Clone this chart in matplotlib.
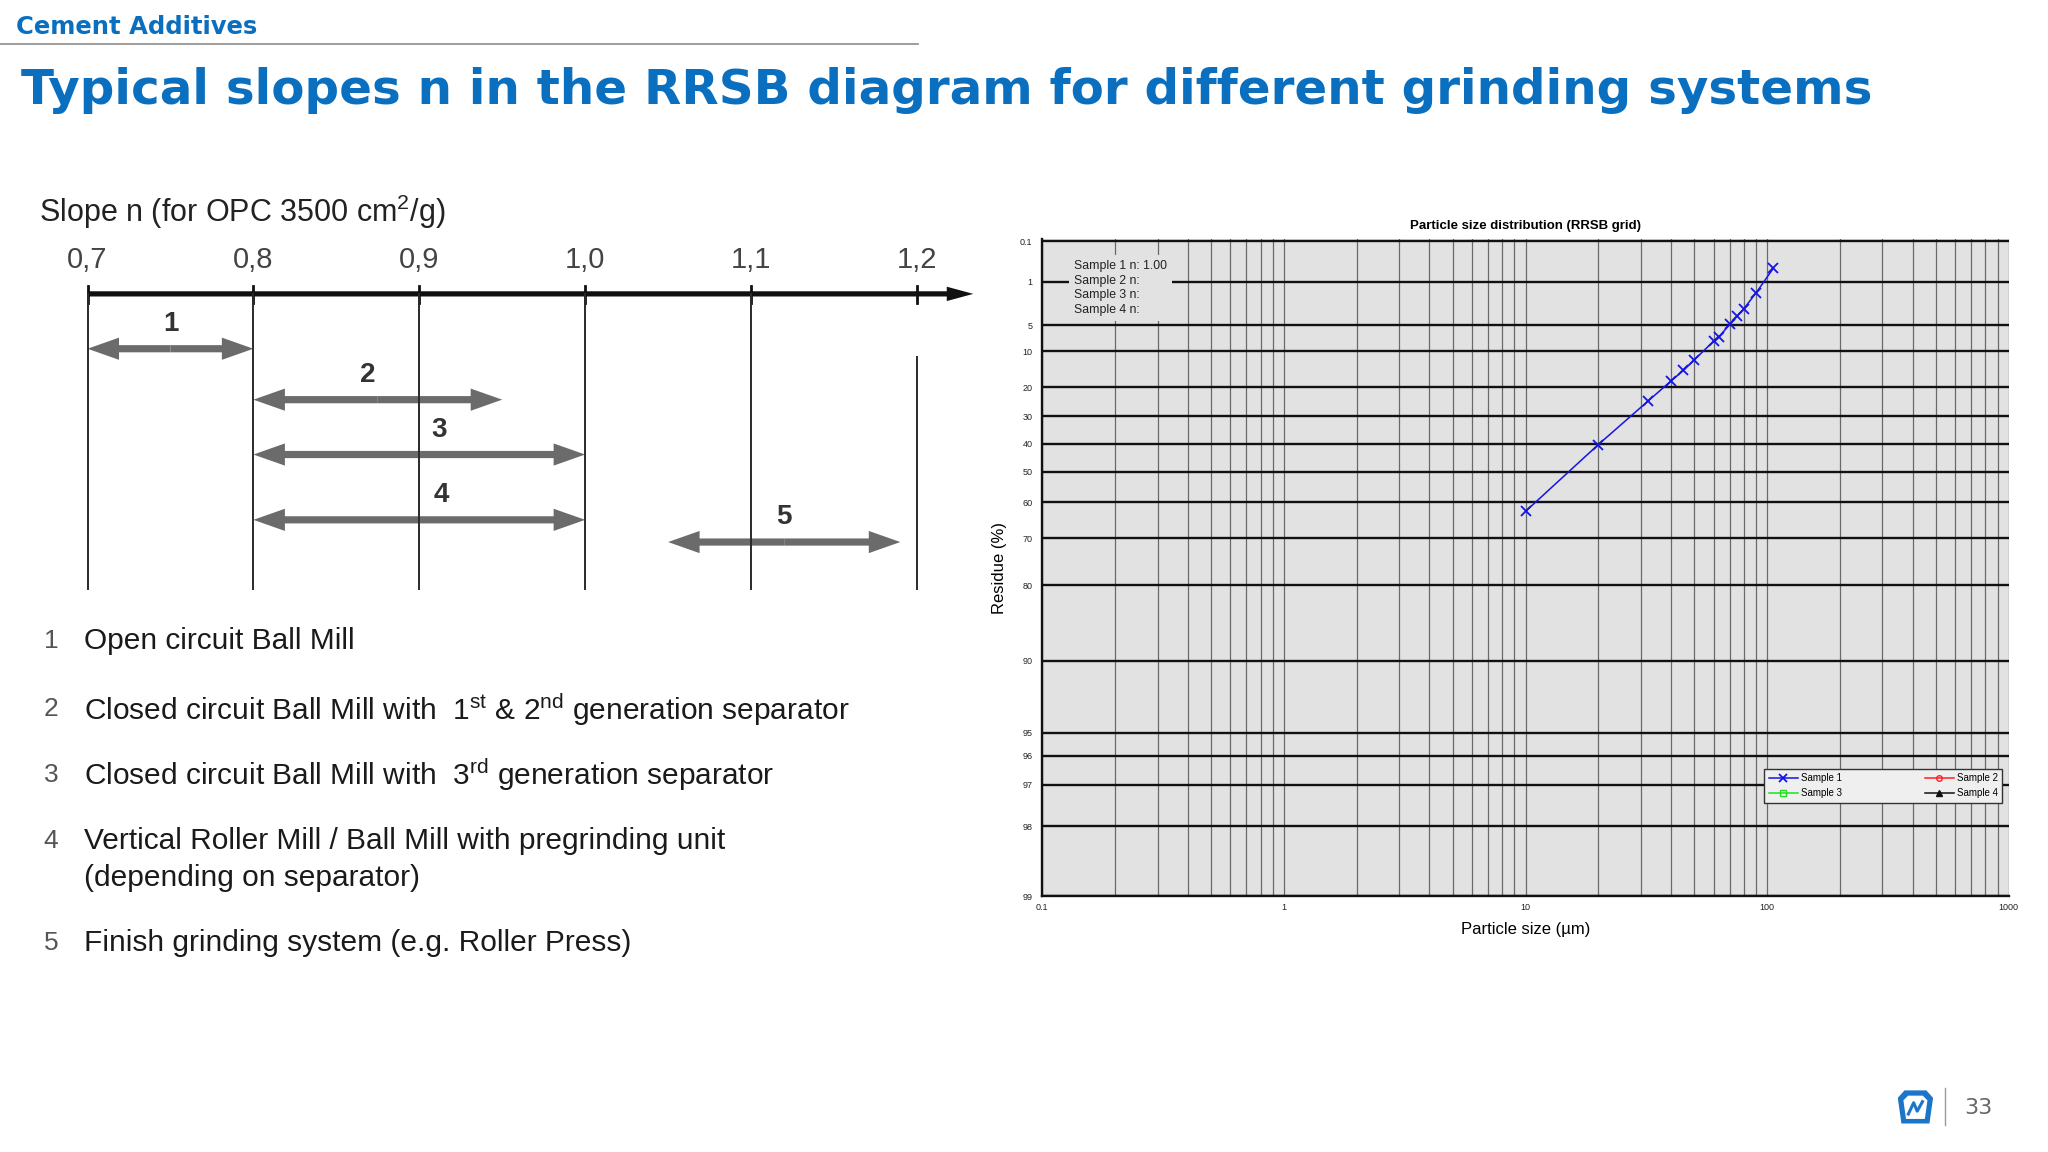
import numpy as np
import matplotlib
matplotlib.use("Agg")
import matplotlib.pyplot as plt
from matplotlib import font_manager
from matplotlib.lines import Line2D
from matplotlib.patches import Polygon
from matplotlib.ticker import FixedLocator, NullLocator, LogLocator, NullFormatter

# ---- slope diagram data (left) ----
slope_ticks = [0.7, 0.8, 0.9, 1.0, 1.1, 1.2]
slope_tick_labels = ["0,7", "0,8", "0,9", "1,0", "1,1", "1,2"]
system_ids = ["1", "2", "3", "4", "5"]
slope_low = [0.70, 0.80, 0.80, 0.80, 1.05]
slope_high = [0.80, 0.95, 1.00, 1.00, 1.19]
system_names = [
    "Open circuit Ball Mill",
    r"Closed circuit Ball Mill with  1$^{\mathrm{st}}$ & 2$^{\mathrm{nd}}$ generation separator",
    r"Closed circuit Ball Mill with  3$^{\mathrm{rd}}$ generation separator",
    "Vertical Roller Mill / Ball Mill with pregrinding unit\n(depending on separator)",
    "Finish grinding system (e.g. Roller Press)",
]

# ---- RRSB chart data (right) ----
particle_size = [10, 20, 32, 40, 45, 50, 60, 63, 70, 75, 80, 90, 106]
residue = [62.7, 40.3, 24.7, 18.0, 14.9, 12.0, 7.8, 7.0, 4.9, 3.8, 2.95, 1.6, 0.51]
residue_ticks = [0.1, 1, 5, 10, 20, 30, 40, 50, 60, 70, 80, 90, 95, 96, 97, 98, 99]
size_ticks = [0.1, 1, 10, 100, 1000]
size_tick_labels = ["0.1", "1", "10", "100", "1000"]
sample_names = ["Sample 1", "Sample 2", "Sample 3", "Sample 4"]
sample_slopes = ["1.00", "", "", ""]

BLUE = "#0b6fbf"
W, H = 1568.0, 882.0   # layout measured on the reference


def fx(x):
    return x / W


def fy(y):
    return 1 - y / H


available = {f.name for f in font_manager.fontManager.ttflist}
narrow = "Liberation Sans Narrow" in available
body_font = "Liberation Sans Narrow" if narrow else "Liberation Sans"
k = 1.22 if narrow else 1.0

plt.rcParams["font.family"] = ["Liberation Sans", "DejaVu Sans"]
plt.rcParams["mathtext.fontset"] = "custom"
plt.rcParams["mathtext.rm"] = body_font
plt.rcParams["mathtext.it"] = body_font
plt.rcParams["mathtext.bf"] = body_font + ":bold"

fig = plt.figure(figsize=(20.48, 11.52), dpi=100)

# ---- header ----
hdr = fig.text(fx(12), fy(21), "Cement Additives", color=BLUE, fontsize=16.5,
               fontweight="bold", family="DejaVu Sans", va="center")
fig.add_artist(Line2D([0, fx(703)], [fy(34), fy(34)], color="#8c8c8c", lw=1.2))
title = fig.text(fx(16), fy(69), "Typical slopes n in the RRSB diagram for different grinding systems",
                 color=BLUE, fontsize=31, fontweight="bold", family="DejaVu Sans", va="center")

fig.canvas.draw()
r = fig.canvas.get_renderer()
for t, target in ((hdr, 184), (title, 1416)):
    wpx = t.get_window_extent(r).width
    t.set_fontsize(t.get_fontsize() * target * 2048 / W / wpx)

# ---- slope diagram ----
fig.text(fx(30), fy(162), "Slope n (for OPC 3500 cm$^{2}$/g)", fontsize=22 * k,
         family=body_font, color="#222222", va="center")

ax_d = fig.add_axes([fx(67), fy(456), (702 - 67) / W, (456 - 216) / H])
ax_d.set_xlim(0.7, 1.2)
ax_d.set_ylim(456, 216)
ax_d.axis("off")

ax_d.arrow(0.7, 225, 0.534, 0, width=4, head_width=11, head_length=0.016,
           length_includes_head=True, color="#111111", lw=0, clip_on=False)
for t, lab in zip(slope_ticks, slope_tick_labels):
    ax_d.plot([t, t], [219, 232], color="#111111", lw=2, clip_on=False)
    ax_d.text(t, 199, lab, ha="center", va="center", fontsize=21 * k,
              family=body_font, color="#444444", clip_on=False)
for t in slope_ticks:
    top = 273 if t == slope_ticks[-1] else 225
    ax_d.plot([t, t], [top, 451], color="#2a2a2a", lw=1.4, clip_on=False)

row_y = [267, 306, 348, 398, 415]
label_dx = [0.0, -0.006, 0.012, 0.013, 0.0]
for lo, hi, y, sid, dx in zip(slope_low, slope_high, row_y, system_ids, label_dx):
    mid = (lo + hi) / 2
    for end in (lo, hi):
        ax_d.arrow(mid, y, end - mid, 0, width=5.5, head_width=17, head_length=0.019,
                   length_includes_head=True, color="#6b6b6b", lw=0, clip_on=False)
    ax_d.text(mid + dx, y - 19, sid, ha="center", va="center", fontsize=20,
              fontweight="bold", color="#333333", clip_on=False)

# ---- legend list ----
list_y = [491, 543, 593, 644, 722]
for sid, name, y in zip(system_ids, system_names, list_y):
    fig.text(fx(39), fy(y), sid, ha="center", va="center", fontsize=19 * k,
             family=body_font, color="#555555")
    for i, line in enumerate(name.split("\n")):
        fig.text(fx(64), fy(y + 28 * i), line, ha="left", va="center",
                 fontsize=21.5 * k, family=body_font, color="#1a1a1a")


# ---- RRSB chart ----
def rrsb_fwd(v):
    v = np.clip(np.asarray(v, dtype=float), 1e-6, 99.99999)
    return -np.log10(np.log(100.0 / v))


def rrsb_inv(t):
    return 100.0 * np.exp(-10.0 ** (-np.asarray(t, dtype=float)))


ax = fig.add_axes([fx(798), fy(686), 740 / W, (686 - 183) / H])
ax.set_facecolor("#e2e2e2")
ax.set_xscale("log")
ax.set_yscale("function", functions=(rrsb_fwd, rrsb_inv))
ax.set_xlim(0.1, 1000)
ax.set_ylim(99, 0.085)

ax.yaxis.set_major_locator(FixedLocator(residue_ticks))
ax.yaxis.set_minor_locator(NullLocator())
ax.set_yticklabels([f"{v:g}" for v in residue_ticks])
ax.xaxis.set_major_locator(FixedLocator(size_ticks))
ax.set_xticklabels(size_tick_labels)
ax.xaxis.set_minor_locator(LogLocator(base=10, subs=np.arange(2, 10)))
ax.xaxis.set_minor_formatter(NullFormatter())

ax.grid(which="both", axis="x", color="#6a6a6a", lw=0.9)
ax.grid(which="major", axis="y", color="#111111", lw=1.7)
ax.tick_params(which="both", length=0, labelsize=6.5, colors="#222222")
ax.tick_params(axis="y", pad=7)
ax.tick_params(axis="x", pad=5)
for side in ("top", "right"):
    ax.spines[side].set_visible(False)
for side in ("left", "bottom"):
    ax.spines[side].set_color("#111111")
    ax.spines[side].set_linewidth(1.7)

h1, = ax.plot(particle_size, residue, color="#1414e6", lw=1.1, marker="x", ms=7, mew=1.3,
              label=sample_names[0])
h2, = ax.plot([], [], color="#ff2020", lw=1.1, marker="o", ms=5, mfc="none", label=sample_names[1])
h3, = ax.plot([], [], color="#22dd22", lw=1.1, marker="s", ms=5, mfc="none", label=sample_names[2])
h4, = ax.plot([], [], color="#111111", lw=1.1, marker="^", ms=5, label=sample_names[3])

# row-wise order: Sample 1 | Sample 2 over Sample 3 | Sample 4
leg = ax.legend([h1, h3, h2, h4], [sample_names[0], sample_names[2], sample_names[1], sample_names[3]],
                loc="lower right", bbox_to_anchor=(0.993, 0.142), ncol=2, fontsize=7,
                frameon=True, fancybox=False, edgecolor="#333333", facecolor="#efefef",
                framealpha=1, handlelength=3.0, handletextpad=0.3, columnspacing=8.5,
                borderaxespad=0, borderpad=0.45, labelspacing=0.5, markerscale=0.8)
leg.get_frame().set_linewidth(1)

box_txt = "\n".join(f"{n} n: {s}" for n, s in zip(sample_names, sample_slopes))
ax.text(0.033, 0.968, box_txt, transform=ax.transAxes, ha="left", va="top",
        fontsize=8.8, color="#222222", linespacing=1.3, zorder=3,
        bbox=dict(boxstyle="square,pad=0.4", facecolor="#e2e2e2", edgecolor="none"))

ax.set_title("Particle size distribution (RRSB grid)", fontsize=9.5, fontweight="bold",
             pad=7)
ax.set_xlabel("Particle size (µm)", fontsize=12)
ax.set_ylabel("Residue (%)", fontsize=12)
ax.xaxis.set_label_coords(0.5, -0.04)
ax.yaxis.set_label_coords(-0.037, 0.5)

# ---- footer ----
ax_logo = fig.add_axes([fx(1453), fy(861), 27 / W, 27 / H])
ax_logo.set_xlim(0, 1)
ax_logo.set_ylim(0, 1)
ax_logo.axis("off")
ax_logo.add_patch(Polygon([[0.12, 0.05], [0.88, 0.05], [0.98, 0.75], [0.8, 0.95],
                           [0.2, 0.95], [0.02, 0.75]], closed=True, color="#1b76c9"))
ax_logo.add_patch(Polygon([[0.25, 0.18], [0.75, 0.18], [0.82, 0.68], [0.7, 0.8],
                           [0.3, 0.8], [0.18, 0.68]], closed=True, color="white"))
ax_logo.plot([0.3, 0.45, 0.55, 0.7], [0.3, 0.62, 0.38, 0.65], color="#1b76c9", lw=2.2)
fig.add_artist(Line2D([fx(1489), fx(1489)], [fy(833), fy(861)], color="#9a9a9a", lw=1))
fig.text(fx(1515), fy(848), "33", ha="center", va="center", fontsize=16,
         family="DejaVu Sans", color="#666666")

fig.savefig("out.png", dpi=100, facecolor="white")
